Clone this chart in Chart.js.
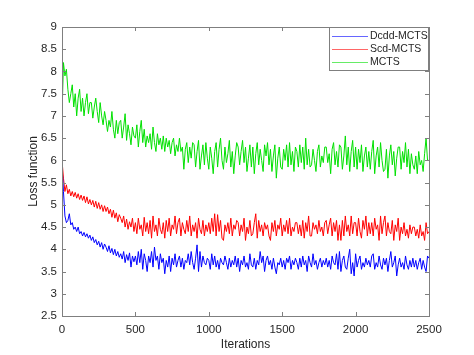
<!DOCTYPE html>
<html>
<head>
<meta charset="utf-8">
<script src="https://cdn.jsdelivr.net/npm/chart.js@4/dist/chart.umd.min.js"></script>
<style>
html,body{margin:0;padding:0;background:#fff;}
#wrap{width:474px;height:355px;position:relative;}
</style>
</head>
<body>
<div id="wrap"><canvas id="c" width="474" height="355"></canvas></div>
<script>
const iterationStep = 10;

const dcddMCTS = [
5.9,5.3,4.75,4.6,4.65,4.8,4.55,4.6,4.45,4.5,
4.4,4.5,4.35,4.4,4.3,4.38,4.28,4.35,4.25,4.32,
4.2,4.28,4.15,4.22,4.1,4.18,4.05,4.15,4.0,4.12,
4.05,3.95,4.08,3.92,4.02,3.88,4.0,3.85,3.95,3.82,
3.9,3.78,3.95,3.7,3.88,3.75,3.92,3.6,3.85,3.72,
3.85,3.65,3.95,3.7,4.0,3.55,3.9,3.75,3.5,3.85,
3.7,3.95,3.6,4.05,3.75,3.85,3.55,3.9,3.7,3.8,
3.45,3.75,3.6,3.85,3.5,3.8,3.65,3.9,3.6,3.75,
3.85,3.6,3.8,3.55,3.75,3.7,3.9,3.65,3.95,3.7,
3.55,3.8,4.1,3.5,3.95,3.6,3.85,3.7,3.65,3.8,
3.75,3.55,3.9,3.65,3.85,3.6,3.75,3.55,3.8,3.7,
3.65,3.85,3.7,3.55,3.8,3.6,3.75,3.65,3.85,3.6,
3.8,3.5,3.75,3.65,3.85,3.6,3.7,3.55,3.9,3.65,
3.6,3.8,3.55,3.75,3.65,3.95,3.7,3.85,3.5,3.75,
3.85,3.65,3.75,3.55,3.8,3.6,3.45,3.7,3.65,3.8,
3.6,3.75,3.55,3.8,3.7,3.85,3.55,3.75,3.65,3.8,
3.7,3.55,3.8,3.6,3.85,3.65,3.75,3.5,3.85,3.7,
3.6,3.9,3.65,3.75,3.55,3.7,3.8,3.6,3.75,3.65,
3.8,3.6,3.75,3.55,3.85,3.7,3.65,3.9,3.55,3.95,
3.5,3.75,3.85,3.6,3.55,3.8,4.0,3.45,3.7,3.4,
3.9,3.6,3.75,3.85,3.55,3.7,3.6,3.8,3.65,3.75,
3.6,3.85,3.9,3.55,3.7,3.6,3.85,3.65,3.55,3.8,
3.65,3.8,3.5,3.75,3.95,3.6,3.7,3.85,3.4,3.65,
3.8,3.6,3.7,3.55,3.85,3.65,3.55,3.75,3.6,3.8,
3.6,3.75,3.55,3.7,3.8,3.55,3.75,3.6,3.5,3.85,
3.8];

const scdMCTS = [
6.0,5.6,5.3,5.45,5.25,5.35,5.2,5.3,5.18,5.28,
5.15,5.25,5.12,5.22,5.1,5.2,5.05,5.18,5.02,5.12,
5.0,5.1,4.95,5.08,4.92,5.05,4.9,5.0,4.85,4.98,
4.85,4.95,4.8,4.9,4.72,4.88,4.7,4.82,4.62,4.78,
4.7,4.6,4.75,4.5,4.68,4.45,4.62,4.5,4.7,4.4,
4.6,4.35,4.7,4.45,4.55,4.3,4.72,4.4,4.6,4.35,
4.65,4.25,4.75,4.4,4.55,4.3,4.7,4.45,4.35,4.6,
4.25,4.65,4.4,4.7,4.3,4.55,4.45,4.75,4.35,4.6,
4.7,4.3,4.6,4.45,4.35,4.65,4.4,4.75,4.3,4.55,
4.4,4.6,4.25,4.7,4.45,4.35,4.65,4.3,4.55,4.4,
4.6,4.35,4.7,4.4,4.8,4.3,4.78,4.4,4.65,4.25,
4.2,4.55,4.4,4.6,4.35,4.7,4.3,4.55,4.45,4.65,
4.6,4.3,4.55,4.4,4.7,4.2,4.5,4.35,4.65,4.3,
4.35,4.6,4.8,4.25,4.65,4.4,4.55,4.3,4.6,4.45,
4.55,4.3,4.2,4.6,4.4,4.65,4.3,4.55,4.45,4.7,
4.3,4.55,4.4,4.65,4.35,4.7,4.3,4.5,4.4,4.6,
4.6,4.35,4.55,4.3,4.65,4.25,4.6,4.4,4.75,4.3,
4.3,4.6,4.45,4.55,4.35,4.65,4.4,4.5,4.3,4.6,
4.65,4.35,4.55,4.7,4.3,4.6,4.4,4.65,4.2,4.55,
4.2,4.65,4.3,4.75,4.4,4.55,4.3,4.75,4.35,4.6,
4.6,4.3,4.7,4.4,4.25,4.65,4.45,4.75,4.3,4.6,
4.35,4.6,4.3,4.7,4.45,4.55,4.2,4.75,4.35,4.6,
4.75,4.3,4.6,4.4,4.35,4.65,4.2,4.55,4.4,4.7,
4.2,4.5,4.35,4.6,4.3,4.45,4.25,4.55,4.35,4.5,
4.5,4.3,4.45,4.25,4.55,4.3,4.4,4.2,4.6,4.35,
4.4];

const mcts = [
7.0,8.2,7.9,8.05,7.6,7.3,7.5,7.7,7.2,7.5,
7.0,7.4,7.6,7.1,7.4,7.0,7.3,7.5,7.05,7.3,
7.3,6.95,7.2,7.4,7.1,6.85,7.3,7.0,6.8,7.1,
6.9,6.65,6.9,6.75,7.1,6.7,6.5,6.9,6.6,6.85,
6.9,6.5,6.75,7.05,6.45,6.8,6.6,6.35,6.75,6.55,
6.5,6.8,6.3,6.65,6.9,6.4,6.7,6.3,6.55,6.4,
6.6,6.25,6.75,6.4,6.2,6.6,6.35,6.5,6.25,6.55,
6.2,6.5,6.3,6.45,6.15,6.4,6.5,6.1,6.35,6.2,
6.5,6.2,6.3,5.8,6.25,6.4,5.95,6.3,6.05,6.4,
6.35,5.85,6.2,6.45,5.8,6.1,6.35,5.9,6.4,6.05,
5.8,6.3,6.05,5.7,6.2,6.4,5.85,6.25,6.5,6.0,
5.8,6.3,5.95,6.15,6.45,5.85,6.2,5.7,6.1,6.4,
6.3,5.9,6.2,6.45,5.95,6.3,5.75,6.05,6.35,5.85,
6.3,5.7,6.15,6.4,5.9,6.25,6.0,5.75,6.35,6.1,
6.4,5.9,6.25,5.75,6.1,6.35,5.6,6.05,6.3,5.85,
5.8,6.25,6.0,6.35,5.85,6.4,5.9,6.2,5.75,6.3,
6.2,5.85,6.35,5.95,6.3,5.8,6.5,5.9,6.25,5.85,
5.9,6.25,6.0,5.75,6.2,6.35,5.85,6.1,5.95,6.3,
6.3,5.95,6.15,5.7,6.25,6.4,5.9,6.2,5.85,6.35,
6.3,5.8,6.1,6.55,5.9,6.3,5.75,6.2,6.45,5.85,
6.3,5.8,6.25,5.95,6.35,5.75,6.1,6.3,5.85,6.2,
5.8,6.2,6.45,5.7,6.1,6.3,5.85,6.4,6.0,5.75,
5.8,6.25,5.6,6.1,6.35,5.9,6.2,5.65,6.05,6.3,
6.3,5.8,6.2,5.95,6.4,5.85,6.25,5.7,6.15,5.9,
5.8,6.1,5.7,6.2,5.9,6.0,5.75,6.15,6.5,6.0,
6.0];

const seriesNames = ['Dcdd-MCTS','Scd-MCTS','MCTS'];
const seriesColors = ['#0000ff','#ff0000','#00e000'];
const seriesValues = [dcddMCTS, scdMCTS, mcts];
const xTicks = [0,500,1000,1500,2000,2500];
const yTicks = [2.5,3,3.5,4,4.5,5,5.5,6,6.5,7,7.5,8,8.5,9];

const axisColor = '#262626';
const frameColor = '#7f7f7f';
const font = "'Liberation Sans', Arial, sans-serif";

const datasets = seriesValues.map((vals, i) => ({
  label: seriesNames[i],
  data: vals.map((v, j) => ({x: j * iterationStep, y: v})),
  borderColor: seriesColors[i],
  borderWidth: 1,
  pointRadius: 0,
  tension: 0,
  fill: false
}));

const framePlugin = {
  id: 'frame',
  afterDatasetsDraw(chart) {
    const {ctx, chartArea: a, scales} = chart;
    ctx.save();
    ctx.strokeStyle = frameColor;
    ctx.lineWidth = 1;
    ctx.strokeRect(Math.round(a.left) + 0.5, Math.round(a.top) + 0.5, Math.round(a.right - a.left), Math.round(a.bottom - a.top));
    const tl = 4;
    ctx.beginPath();
    xTicks.forEach(v => {
      const x = Math.round(scales.x.getPixelForValue(v)) + 0.5;
      ctx.moveTo(x, a.bottom); ctx.lineTo(x, a.bottom - tl);
      ctx.moveTo(x, a.top); ctx.lineTo(x, a.top + tl);
    });
    yTicks.forEach(v => {
      const y = Math.round(scales.y.getPixelForValue(v)) + 0.5;
      ctx.moveTo(a.left, y); ctx.lineTo(a.left + tl, y);
      ctx.moveTo(a.right, y); ctx.lineTo(a.right - tl, y);
    });
    ctx.stroke();
    // legend
    const lx = 329, ly = 27, lw = 99, lh = 43;
    ctx.fillStyle = '#fff';
    ctx.fillRect(lx, ly, lw, lh);
    ctx.strokeStyle = frameColor;
    ctx.strokeRect(lx + 0.5, ly + 0.5, lw, lh);
    ctx.font = '10.5px ' + font;
    ctx.textBaseline = 'middle';
    chart.data.datasets.forEach((ds, i) => {
      const yy = ly + 9.5 + i * 13;
      ctx.strokeStyle = ds.borderColor;
      ctx.globalAlpha = 0.6;
      ctx.beginPath(); ctx.moveTo(lx + 3, yy); ctx.lineTo(lx + 39, yy); ctx.stroke();
      ctx.globalAlpha = 1;
      ctx.fillStyle = axisColor;
      ctx.fillText(ds.label, lx + 41, yy);
    });
    ctx.restore();
  }
};

new Chart(document.getElementById('c'), {
  type: 'line',
  data: {datasets},
  options: {
    responsive: false,
    animation: false,
    layout: {padding: {left: 26, top: 27, right: 45, bottom: 3}},
    plugins: {legend: {display: false}, tooltip: {enabled: false}},
    scales: {
      x: {
        type: 'linear', min: 0, max: 2500,
        afterBuildTicks(s) { s.ticks = xTicks.map(v => ({value: v})); },
        afterFit(s) { s.height = 36; },
        grid: {display: false, drawTicks: false},
        border: {display: false},
        ticks: {color: axisColor, font: {family: font, size: 11.5}, padding: 7, maxRotation: 0, callback: v => String(v)},
        title: {display: true, text: 'Iterations', color: axisColor, font: {family: font, size: 12}, padding: {top: 0, bottom: 0}}
      },
      y: {
        type: 'linear', min: 2.5, max: 9,
        afterBuildTicks(s) { s.ticks = yTicks.map(v => ({value: v})); },
        afterFit(s) { s.width = 36; },
        grid: {display: false, drawTicks: false},
        border: {display: false},
        ticks: {color: axisColor, font: {family: font, size: 11.5}, padding: 5, callback: v => String(v)},
        title: {display: true, text: 'Loss function', color: axisColor, font: {family: font, size: 12}, padding: {top: 0, bottom: 0}}
      }
    }
  },
  plugins: [framePlugin]
});
</script>
</body>
</html>
